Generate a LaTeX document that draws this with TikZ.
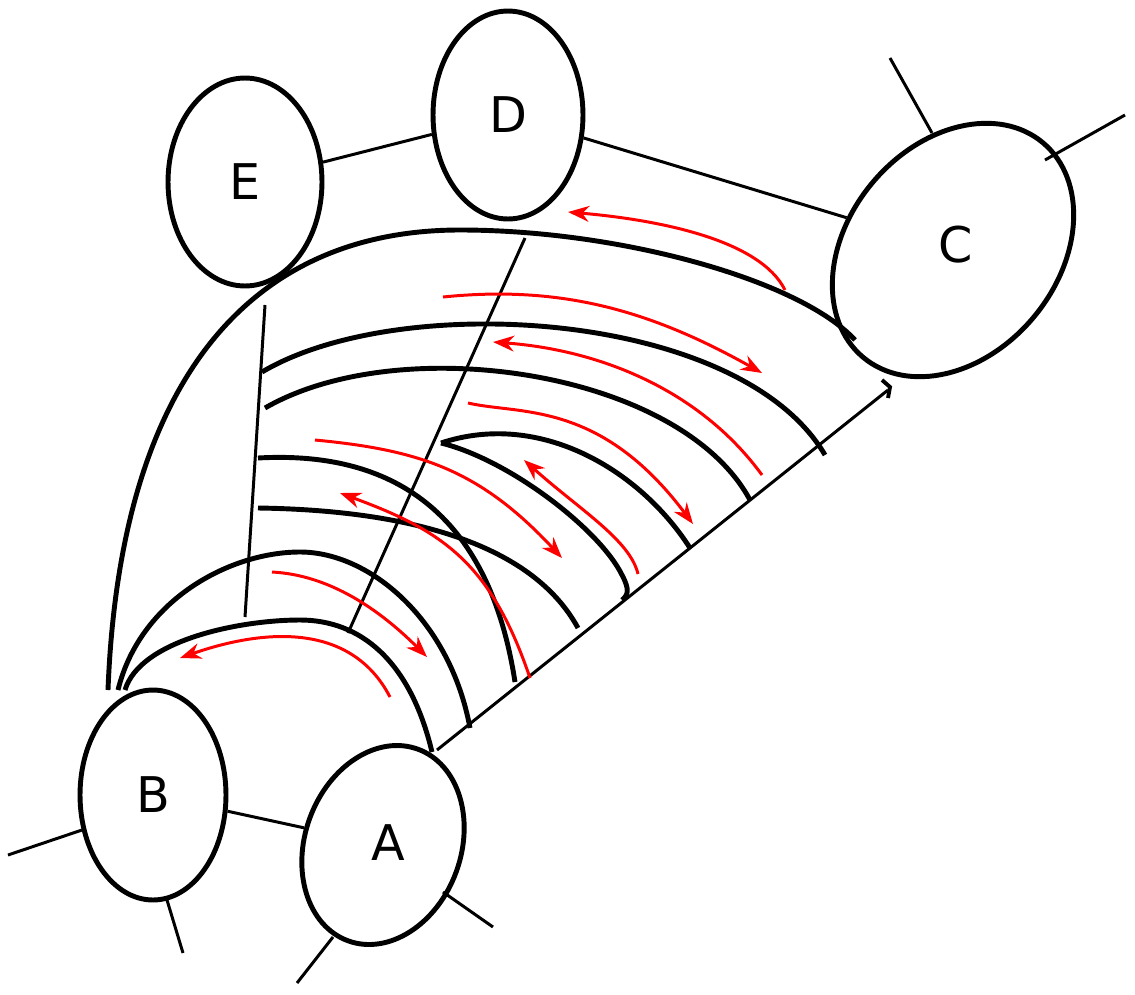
\documentclass[tikz,border=0pt]{standalone}
\usepackage{fontspec}
\setmainfont{DejaVu Sans}
\usetikzlibrary{shapes.geometric,arrows.meta}
\begin{document}
\begin{tikzpicture}[x=0.02cm,y=-0.02cm,
  ell/.style={draw,ellipse,line width=2.8pt,inner sep=0pt},
  lab/.style={font=\fontsize{28}{30}\selectfont},
  thin/.style={line width=1.7pt},
  arc/.style={line width=2.8pt},
  red/.style={draw=red,line width=1.7pt,-{Stealth[length=12pt,width=9pt]}},
  redl/.style={draw=red,line width=1.7pt}]
\useasboundingbox (0,0) rectangle (1135,994);
\node[ell,minimum width=3.08cm,minimum height=4.16cm] (E) at (245,182) {};
\node[ell,minimum width=3.0cm,minimum height=4.16cm] (D) at (508,115) {};
\node[ell,minimum width=4.2cm,minimum height=5.6cm,rotate=-40] (C) at (953,250) {};
\node[ell,minimum width=2.92cm,minimum height=4.2cm] (B) at (153,795) {};
\node[ell,minimum width=3.12cm,minimum height=4.08cm,rotate=-20] (A) at (383,845) {};
\node[lab] (El) at (E.center) {E};
\node[lab] (Dl) at (D.center) {D};
\node[lab] (Cl) at (956,245) {C};
\node[lab] (Bl) at (B.center) {B};
\node[lab] (Al) at (388,843) {A};
% stubs
\coordinate (c1) at (890,58); \coordinate (c2) at (1125,115);
\coordinate (b1) at (8,855); \coordinate (b2) at (183,953);
\coordinate (a1) at (493,927); \coordinate (a2) at (297,983);
\draw[thin] (c1) -- (932,133);
\draw[thin] (c2) -- (1045,160);
\draw[thin] (b1) -- (82,830);
\draw[thin] (b2) -- (167,900);
\draw[thin] (a1) -- (443,892);
\draw[thin] (a2) -- (333,937);
\draw[thin] (E) -- (D);
\draw[thin] (D) -- (C);
\draw[thin] (B) -- (A);
% radial lines
\coordinate (r0) at (888,390);
\draw[thin] (437,750) -- (r0);
\draw[line width=2.2pt] (882,380) -- (890,387) -- (888,398);
\draw[thin] (245,617) -- (265,305);
\draw[thin] (348,633) -- (525,238);
% outer arc
\draw[arc] (108,690) .. controls (120,380) and (250,230) .. (460,230) .. controls (620,230) and (800,280) .. (855,340);
% arcs
\draw[arc] (125,690) .. controls (140,640) and (240,620) .. (300,620) .. controls (360,620) and (410,660) .. (432,752);
\draw[arc] (118,690) .. controls (140,600) and (230,552) .. (300,552) .. controls (370,552) and (450,620) .. (470,728);
\draw[arc] (258,458) .. controls (400,450) and (490,520) .. (515,682);
\draw[arc] (258,508) .. controls (400,510) and (530,540) .. (578,628);
\draw[arc] (441,443) .. controls (510,460) and (600,530) .. (622,575) .. controls (630,590) and (628,595) .. (622,600);
\draw[arc] (441,443) .. controls (540,410) and (640,470) .. (690,548);
\draw[arc] (265,408) .. controls (400,330) and (680,370) .. (750,500);
\draw[arc] (262,372) .. controls (400,290) and (740,310) .. (825,455);
% red arrows
\draw[red] (785,290) .. controls (760,240) and (660,220) .. (568,212);
\draw[red] (443,297) .. controls (560,285) and (650,310) .. (762,373);
\draw[red] (762,475) .. controls (700,390) and (600,350) .. (493,342);
\draw[red] (468,403) .. controls (520,415) and (600,400) .. (693,524);
\draw[red] (638,574) .. controls (630,540) and (580,510) .. (524,460);
\draw[red] (315,440) .. controls (420,450) and (480,470) .. (562,558);
\draw[red] (530,678) .. controls (490,560) and (440,530) .. (340,493);
\draw[red] (272,572) .. controls (330,575) and (380,610) .. (427,657);
\draw[red] (390,697) .. controls (350,620) and (260,630) .. (180,658);
\end{tikzpicture}
\end{document}
